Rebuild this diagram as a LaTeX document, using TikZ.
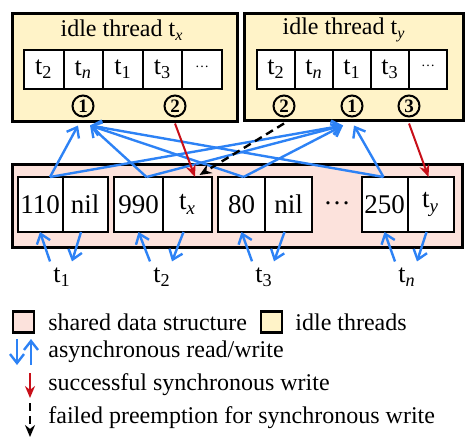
\documentclass[tikz,border=0pt]{standalone}
\usepackage{fontspec}
\setmainfont{Liberation Serif}
\usetikzlibrary{arrows.meta,positioning,calc}

\definecolor{shpink}{RGB}{252,226,220}
\definecolor{idleyel}{RGB}{255,243,200}
\definecolor{asyblue}{RGB}{45,130,245}
\definecolor{syncred}{RGB}{200,15,25}
\newcommand{\tsub}[1]{t\textsubscript{#1}}

\tikzset{
  box/.style={draw, line width=1.5pt, inner sep=0pt, outer sep=0pt},
  tcell/.style={draw, fill=white, line width=1pt, minimum height=19.5pt, inner sep=0pt, outer sep=0pt, font=\fontsize{13}{15}\selectfont},
  dcell/.style={draw, fill=white, line width=1pt, minimum height=27.5pt, inner sep=0pt, outer sep=0pt, font=\fontsize{13.5}{15}\selectfont},
  num/.style={circle, draw, line width=1pt, minimum size=10.5pt, inner sep=0pt, font=\bfseries\fontsize{9.5}{9.5}\selectfont},
  async/.style={draw=asyblue, line width=1.2pt, -{Straight Barb[length=4.5pt,width=7pt]}},
  sync/.style={draw=syncred, line width=1pt, -{Stealth[length=6pt,width=5pt]}},
  fail/.style={draw=black, line width=1.2pt, dash pattern=on 4pt off 2.5pt, -{Stealth[length=6pt,width=5pt]}},
}

\begin{document}
\begin{tikzpicture}[x=0.5pt, y=-0.5pt, font=\fontsize{12}{14}\selectfont]
  \useasboundingbox (0,0) rectangle (474,440);

  % Idle thread t_x
  \node[box, fill=idleyel, minimum width=112.5pt, minimum height=54pt] (thx) at (124.5,67) {};
  \node (titx) at (122,30) {idle thread \tsub{\textit{x}}};
  \node[tcell, minimum width=19.8pt] (x2) at (43.8,69.5) {\tsub{2}};
  \node[tcell, minimum width=19.8pt, right=0pt of x2] (xn) {\tsub{\textit{n}}};
  \node[tcell, minimum width=19.8pt, right=0pt of xn] (x1) {\tsub{1}};
  \node[tcell, minimum width=19.8pt, right=0pt of x1] (x3) {\tsub{3}};
  \node[tcell, minimum width=19.8pt, right=0pt of x3] (xd) {\raisebox{3pt}{\scriptsize\dots}};
  \node[num] (cx1) at (83,106) {1};
  \node[num] (cx2) at (175,106) {2};

  % Idle thread t_y
  \node[box, fill=idleyel, minimum width=109.5pt, minimum height=53.5pt] (thy) at (353.5,66.5) {};
  \node (tity) at (344,30) {idle thread \tsub{\textit{y}}};
  \node[tcell, minimum width=19pt] (y2) at (276,69) {\tsub{2}};
  \node[tcell, minimum width=19pt, right=0pt of y2] (yn) {\tsub{\textit{n}}};
  \node[tcell, minimum width=19pt, right=0pt of yn] (y1) {\tsub{1}};
  \node[tcell, minimum width=19pt, right=0pt of y1] (y3) {\tsub{3}};
  \node[tcell, minimum width=19pt, right=0pt of y3] (yd) {\raisebox{3pt}{\scriptsize\dots}};
  \node[num] (cy2) at (284,106) {2};
  \node[num] (cy1) at (352,106) {1};
  \node[num] (cy3) at (409,106) {3};

  % Shared data structure
  \node[box, fill=shpink, minimum width=225pt, minimum height=41.5pt] (shared) at (237,205.5) {};
  \node[dcell, minimum width=22.5pt] (k1) at (40,204.5) {110};
  \node[dcell, minimum width=22.5pt, right=0pt of k1] (v1) {nil};
  \node[dcell, minimum width=24.5pt] (k2) at (138.5,204.5) {990};
  \node[dcell, minimum width=24.5pt, right=0pt of k2] (v2) {\tsub{\textit{x}}};
  \node[dcell, minimum width=23.5pt] (k3) at (241.5,204.5) {80};
  \node[dcell, minimum width=23.5pt, right=0pt of k3] (v3) {nil};
  \node[font=\fontsize{13.5}{15}\selectfont] (dots) at (337,203) {\dots};
  \node[dcell, minimum width=23pt] (k4) at (384.5,204.5) {250};
  \node[dcell, minimum width=23pt, right=0pt of k4] (v4) {\tsub{\textit{y}}};

  % Worker threads
  \node[inner sep=0pt, font=\fontsize{13}{15}\selectfont] (l1) at (62,277) {\tsub{1}};
  \node[inner sep=0pt, font=\fontsize{13}{15}\selectfont] (l2) at (162,277) {\tsub{2}};
  \node[inner sep=0pt, font=\fontsize{13}{15}\selectfont] (l3) at (264,277) {\tsub{3}};
  \node[inner sep=0pt, font=\fontsize{13}{15}\selectfont] (ln) at (407,277) {\tsub{\textit{n}}};

  % Asynchronous read/write
  \draw[async] ([xshift=5pt]k1.north) -- ([xshift=-2.5pt, yshift=-4pt]cx1.south);
  \draw[async] ([xshift=5pt]k1.north) -- ([xshift=-4.5pt, yshift=-4pt]cy1.south);
  \foreach \k/\s in {k2/4pt, k3/1pt} {
    \draw[async] ([xshift=\s]\k.north) -- ([xshift=3.5pt, yshift=-4pt]cx1.south);
    \draw[async] ([xshift=\s]\k.north) -- ([xshift=-4.5pt, yshift=-4pt]cy1.south);
  }
  \draw[async] ([xshift=-0.5pt]k4.north) -- ([xshift=3.5pt, yshift=-4pt]cx1.south);
  \draw[async] ([xshift=-0.5pt]k4.north) -- ([xshift=1pt, yshift=-4pt]cy1.south);
  \foreach \l/\k/\v in {l1/k1/v1, l2/k2/v2, l3/k3/v3, ln/k4/v4} {
    \draw[async] ([xshift=-6pt, yshift=3pt]\l.north) -- (\k.south);
    \draw[async] ([xshift=-2pt]\v.south) -- ([xshift=5pt, yshift=3pt]\l.north);
  }

  % Synchronous writes
  \draw[sync] ([yshift=-3pt]cx2.south) -- ([xshift=3.75pt]v2.north);
  \draw[sync] ([yshift=-3pt]cy3.south) -- ([xshift=-1pt]v4.north);
  \draw[fail] ([yshift=-3pt]cy2.south) -- ([xshift=6pt, yshift=1pt]v2.north);

  % Legend
  \node[box, line width=1.2pt, fill=shpink, minimum size=10.5pt] (lgsh) at (23.5,322) {};
  \node[anchor=west, inner sep=0pt] (lgsht) at (48,322) {shared data structure};
  \node[box, line width=1.2pt, fill=idleyel, minimum size=10.5pt] (lgid) at (271.5,322) {};
  \node[anchor=west, inner sep=0pt] (lgidt) at (295,322) {idle threads};
  \coordinate (a1) at (17,339);
  \coordinate (a2) at (17,365);
  \coordinate (a3) at (31,365);
  \coordinate (a4) at (31,339);
  \draw[async] (a1) -- (a2);
  \draw[async] (a3) -- (a4);
  \node[anchor=west, inner sep=0pt] (lgas) at (48,352) {asynchronous read/write};
  \coordinate (r1) at (30,373);
  \coordinate (r2) at (30,398);
  \draw[sync] (r1) -- (r2);
  \node[anchor=west, inner sep=0pt] (lgsy) at (48,385) {successful synchronous write};
  \coordinate (f1) at (30,403);
  \coordinate (f2) at (30,437);
  \draw[fail] (f1) -- (f2);
  \node[anchor=west, inner sep=0pt] (lgfa) at (48,418) {failed preemption for synchronous write};
\end{tikzpicture}
\end{document}
